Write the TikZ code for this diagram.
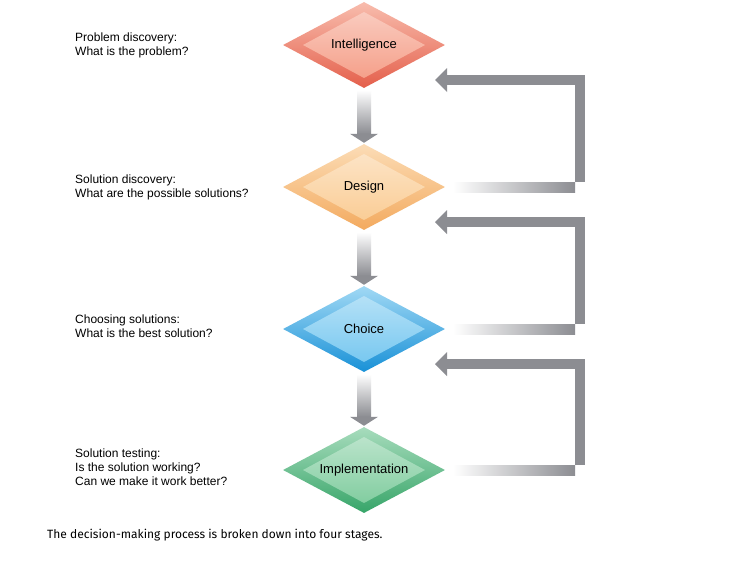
\documentclass[tikz,border=0pt]{standalone}
\usepackage{fontspec}
\setmainfont{Liberation Sans}
\newfontfamily\capfont{Fira Sans}
\usetikzlibrary{shapes.geometric}
\definecolor{arr}{RGB}{140,141,146}
\definecolor{iD}{RGB}{228,95,75}\definecolor{iL}{RGB}{245,160,138}
\definecolor{dD}{RGB}{243,170,95}\definecolor{dL}{RGB}{250,205,150}
\definecolor{cD}{RGB}{25,145,215}\definecolor{cL}{RGB}{120,200,240}
\definecolor{mD}{RGB}{55,165,105}\definecolor{mL}{RGB}{130,205,160}
\tikzset{
 lbl/.style={anchor=north west,align=left,font=\fontsize{12}{14}\selectfont,inner sep=0pt},
 dia/.style={diamond,minimum width=162pt,minimum height=86pt,inner sep=0pt,aspect=1.88},
}
\newcommand{\stage}[5]{% name, y, text, dark, light
 \node[dia,top color=#5!70!white,bottom color=#4] (#1) at (364,#2) {};
 \shade[top color=#5!55!white,bottom color=#5] (364,#2-33) -- (425,#2) -- (364,#2+33) -- (303,#2) -- cycle;
 \node[font=\fontsize{13}{15}\selectfont] (#1t) at (364,#2) {#3};
}
\begin{document}
\begin{tikzpicture}[x=1pt,y=-1pt]
\useasboundingbox (0,0) rectangle (747,574);
\fill[white] (0,0) rectangle (747,574);
\stage{int}{45}{Intelligence}{iD}{iL}
\stage{des}{187}{Design}{dD}{dL}
\stage{cho}{329}{Choice}{cD}{cL}
\stage{imp}{470}{Implementation}{mD}{mL}
% down arrows
\foreach \a/\b in {int/des,cho/imp,des/cho}{
 \path (\a.south) coordinate (s) (\b.north) coordinate (e);
 \shade[top color=white,bottom color=arr] ([xshift=-7pt,yshift=-2pt]s) rectangle ([xshift=7pt,yshift=10pt]e);
 \fill[arr] ([xshift=-14pt,yshift=10pt]e) -- ([xshift=14pt,yshift=10pt]e) -- ([yshift=1pt]e) -- cycle;
}
% feedback loops
\foreach \a/\y in {des/80,cho/222,imp/364}{
 \path (\a.east) coordinate (r);
 \shade[left color=white,right color=arr] ([xshift=8pt,yshift=-5pt]r) rectangle ([yshift=5pt]r -| 575,0);
 \fill[arr] (575,0 |- r) ++(0,-5) rectangle (585,\y-5);
 \fill[arr] (585,\y-5) rectangle (447,\y+5);
 \fill[arr] (447,\y-12) -- (447,\y+12) -- (435,\y) -- cycle;
}
\node[lbl] (l1) at (75,33) {Problem discovery:\\What is the problem?};
\node[lbl] (l2) at (75,175) {Solution discovery:\\What are the possible solutions?};
\node[lbl] (l3) at (75,315) {Choosing solutions:\\What is the best solution?};
\node[lbl] (l4) at (75,449) {Solution testing:\\Is the solution working?\\Can we make it work better?};
\node[anchor=west,inner sep=0pt,font=\capfont\fontsize{12}{14}\selectfont] (cap) at (47,535) {The decision-making process is broken down into four stages.};
\end{tikzpicture}
\end{document}
